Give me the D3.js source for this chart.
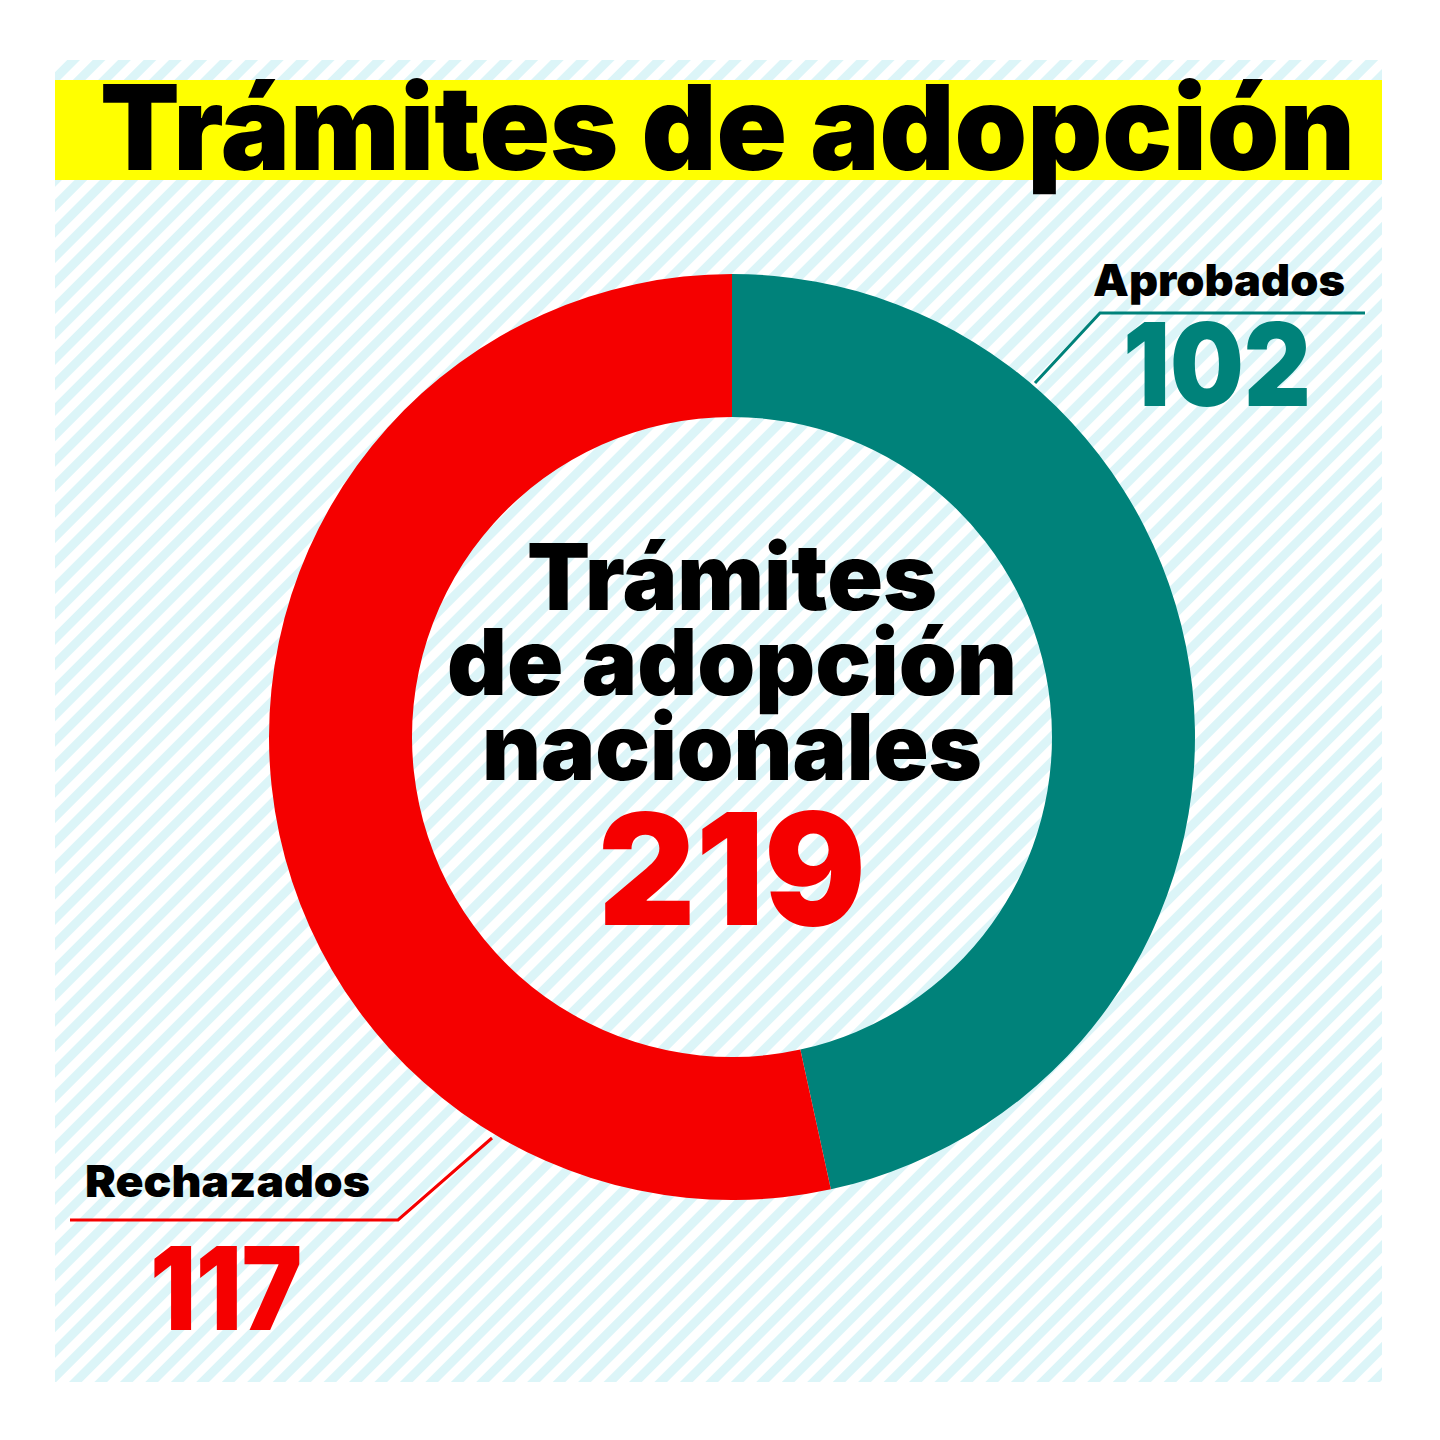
<!DOCTYPE html><html><head><meta charset="utf-8">
<script src="https://cdn.jsdelivr.net/npm/d3@7"></script>
<style>body{margin:0;background:#fff}</style></head><body>
<script>
const categories=["Aprobados","Rechazados"];
const values=[102,117];
const colors=["#00827a","#f50000"];
const total=219;
const W=1440,H=1440,F="Inter, 'DejaVu Sans', sans-serif";
const svg=d3.select("body").append("svg").attr("width",W).attr("height",H);
const defs=svg.append("defs");
const p=defs.append("pattern").attr("id","hatch").attr("patternUnits","userSpaceOnUse").attr("width",18).attr("height",18).attr("patternTransform","rotate(45)");
p.append("rect").attr("width",9).attr("height",18).attr("fill","#dcf5f8");
svg.append("rect").attr("x",55).attr("y",60).attr("width",1327).attr("height",1322).attr("fill","url(#hatch)");
svg.append("rect").attr("x",55).attr("y",80).attr("width",1327).attr("height",100).attr("fill","#ffff00");
function t(x,y,s,size,fill,len,anchor){const e=svg.append("text").attr("x",x).attr("y",y).text(s).attr("font-family",F).attr("font-weight",900).attr("font-size",size).attr("fill",fill).attr("text-anchor",anchor||"start");if(len)e.attr("textLength",len).attr("lengthAdjust","spacingAndGlyphs");return e;}
t(100,170,"Trámites de adopción",118,"#000",1255);
const cx=732,cy=737;
const pie=d3.pie().sort(null).value(d=>d)(values);
const arc=d3.arc().innerRadius(320).outerRadius(463);
svg.append("g").attr("transform",`translate(${cx},${cy})`).selectAll("path").data(pie).join("path").attr("d",arc).attr("fill",(d,i)=>colors[i]);
// leaders
svg.append("polyline").attr("points","1035,383 1100,313 1365,313").attr("fill","none").attr("stroke",colors[0]).attr("stroke-width",3);
svg.append("polyline").attr("points","492,1138 398,1220 70,1220").attr("fill","none").attr("stroke",colors[1]).attr("stroke-width",3);
t(1093,296,categories[0],44,"#000",252);
t(1123,406,values[0],115,colors[0],188);
t(85,1197,categories[1],44,"#000",285);
t(150,1330,values[1],115,colors[1],152);
t(cx,610,"Trámites",92,"#000",410,"middle");
t(cx,695,"de adopción",92,"#000",570,"middle");
t(cx,780,"nacionales",92,"#000",500,"middle");
t(cx,925,total,155,colors[1],268,"middle");
</script></body></html>
